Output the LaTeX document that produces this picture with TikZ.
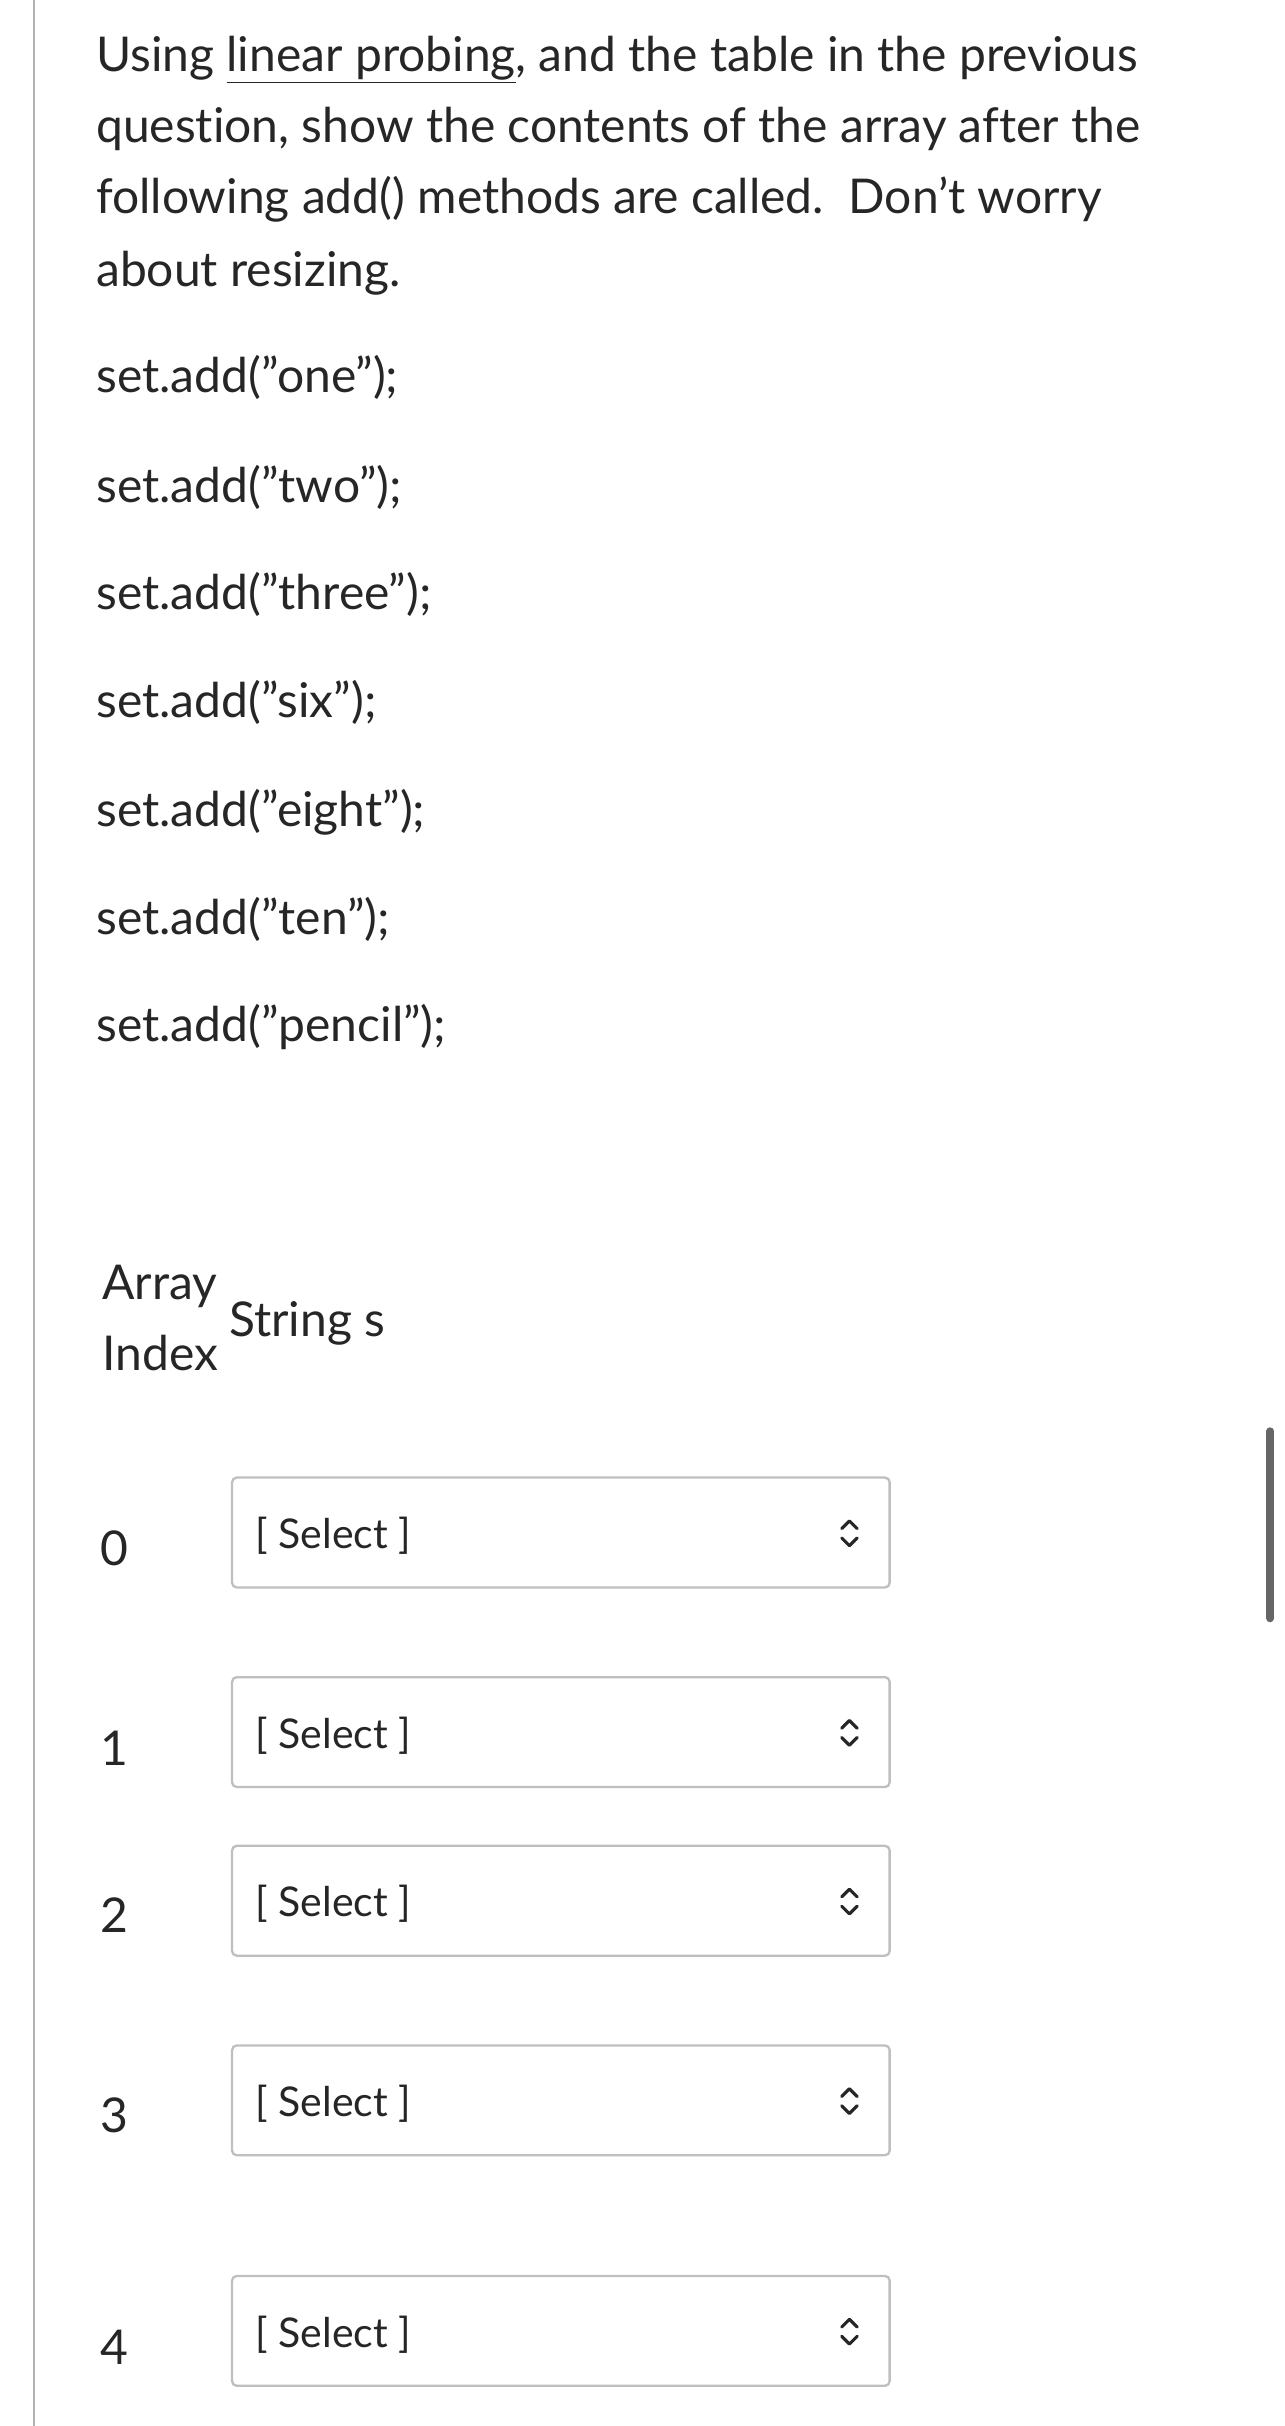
\documentclass[tikz,border=0pt]{standalone}
\usepackage{fontspec}
\setmainfont{Lato}[Ligatures=NoCommon]
\newcommand{\dq}{\char34{}}
\begin{document}
\begin{tikzpicture}[x=1pt,y=-1pt,
  txt/.style={anchor=base west,inner sep=0,font=\fontsize{31}{36}\selectfont,text=black!85},
  sel/.style={anchor=base west,inner sep=0,font=\fontsize{26.5}{30}\selectfont,text=black!85},
  box/.style={draw=black!25,line width=1.5pt,rounded corners=3pt},
  chev/.style={line width=2pt,black!85,line cap=round,line join=round}]
\useasboundingbox[fill=white] (0,0) rectangle (830,1568);
\draw[black!30,line width=1.2pt] (22,0) -- (22,1568);
\draw[black!60,line width=5pt,line cap=round] (821,925) -- (821,1046);
\node[txt] (l1) at (62,46) {Using \underline{linear probing}, and the table in the previous};
\node[txt] (l2) at (62,92) {question, show the contents of the array after the};
\node[txt] (l3) at (62,138) {following add() methods are called.\ \ Don\char39{}t worry};
\node[txt] (l4) at (62,185) {about resizing.};
\node[txt] (a1) at (62,254) {set.add(\dq one\dq);};
\node[txt] (a2) at (62,325) {set.add(\dq two\dq);};
\node[txt] (a3) at (62,394) {set.add(\dq three\dq);};
\node[txt] (a4) at (62,464) {set.add(\dq six\dq);};
\node[txt] (a5) at (62,534) {set.add(\dq eight\dq);};
\node[txt] (a6) at (62,604) {set.add(\dq ten\dq);};
\node[txt] (a7) at (62,673) {set.add(\dq pencil\dq);};
\node[txt] (h1) at (66,840) {Array};
\node[txt] (h2) at (66,886) {Index};
\node[txt] (h3) at (148,864) {String s};
\foreach \i/\yc/\yb in {0/990/1012,1/1119/1141,2/1228/1249,3/1357/1378,4/1506/1528}{
  \node[txt] (n\i) at (65,\yb) {\i};
  \draw[box] (150,\yc-35) rectangle (575,\yc+36);
  \node[sel] (s\i) at (165,\yc+11) {[ Select ]};
  \draw[chev] (544,\yc-2) -- (549,\yc-7) -- (554,\yc-2);
  \draw[chev] (544,\yc+4) -- (549,\yc+9) -- (554,\yc+4);
}
\end{tikzpicture}
\end{document}
